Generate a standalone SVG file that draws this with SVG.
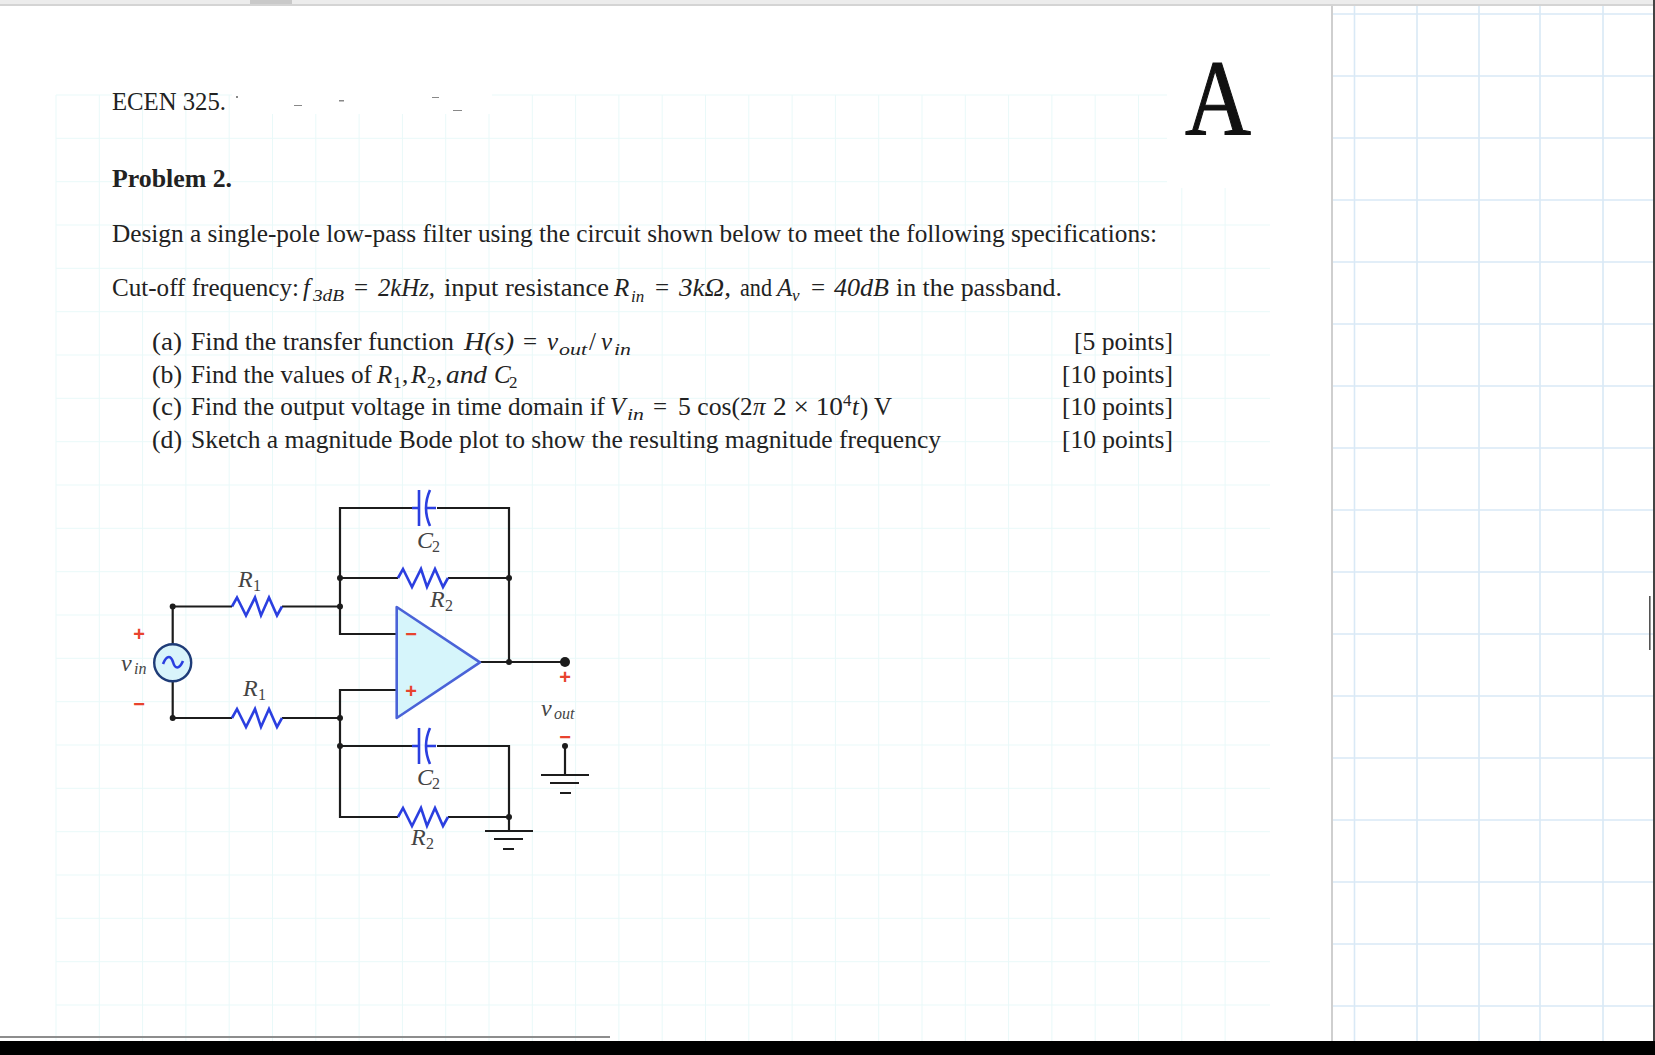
<svg xmlns="http://www.w3.org/2000/svg" width="1655" height="1055" viewBox="0 0 1655 1055">
<style>
text{font-family:"Liberation Serif","Times New Roman",serif;fill:#222;font-size:25px}
.b{font-weight:bold}
.i{font-style:italic}
.s{font-size:17px}
.c{font-size:24px;fill:#444;font-style:italic}
.cs{font-size:16px;fill:#444}
.r{font-family:"Liberation Sans",sans-serif;fill:#e8432e;font-size:20px;font-weight:bold;text-anchor:middle}
.w{fill:none;stroke:#1c1c1c;stroke-width:2.2}
.e{fill:none;stroke:#2b3fe0;stroke-width:2.6}
.d{fill:#1c1c1c}
.pg{fill:none;stroke:#e9f9f9;stroke-width:1}
.rg{fill:none;stroke:#d9e9f6;stroke-width:1.6}
</style>
<defs>
<path id="res" class="e" d="M0 0L5 -9L14 9L23 -9L29 9L37 -9L45 9L50 0"/>
<path id="cap" class="e" d="M-7 0H0M0 -18V18M11 -18Q3 0 11 18M6 0H17"/>
</defs>
<rect width="1655" height="1055" fill="#fff"/>
<g id="page-grid">
<path class="pg" d="M56 95V1041M99.3 95V1041M142.6 95V1041M185.9 95V1041M229.2 95V1041M272.5 95V1041M315.8 95V1041M359.1 95V1041M402.4 95V1041M445.7 95V1041M489 95V1041M532.3 95V1041M575.6 95V1041M618.9 95V1041M662.2 95V1041M705.5 95V1041M748.8 95V1041M792.1 95V1041M835.4 95V1041M878.7 95V1041M922 95V1041M965.3 95V1041M1008.6 95V1041M1051.9 95V1041M1095.2 95V1041M1138.5 95V1041M1181.8 95V1041M1225.1 95V1041"/>
<path class="pg" d="M56 95H1270M56 138.3H1270M56 181.7H1270M56 225H1270M56 268.3H1270M56 311.7H1270M56 355H1270M56 398.3H1270M56 441.7H1270M56 485H1270M56 528.3H1270M56 571.7H1270M56 615H1270M56 658.3H1270M56 701.7H1270M56 745H1270M56 788.3H1270M56 831.7H1270M56 875H1270M56 918.3H1270M56 961.7H1270M56 1005H1270"/>
<rect x="1167" y="88" width="110" height="100" fill="#fff"/>
<rect x="232" y="88" width="260" height="26" fill="#fff"/>
</g>
<g id="side-grid">
<path class="rg" d="M1354.5 6V1041M1417 6V1041M1479 6V1041M1540 6V1041M1603 6V1041"/>
<path class="rg" d="M1333 14H1653M1333 76H1653M1333 138H1653M1333 200H1653M1333 262H1653M1333 324H1653M1333 386H1653M1333 448H1653M1333 510H1653M1333 572H1653M1333 634H1653M1333 696H1653M1333 758H1653M1333 820H1653M1333 882H1653M1333 944H1653M1333 1006H1653"/>
</g>
<g id="window">
<rect x="0" y="0" width="1655" height="4" fill="#ececec"/>
<rect x="250" y="0" width="42" height="4" fill="#c9c9c9"/>
<rect x="0" y="4" width="1655" height="2" fill="#d4d4d4"/>
<rect x="1331" y="6" width="2" height="1035" fill="#cfcfcf"/>
<rect x="1653" y="0" width="2" height="1041" fill="#444"/>
<rect x="1649" y="596" width="1.6" height="54" fill="#555"/>
<rect x="0" y="1036" width="610" height="2" fill="#8d8d8d"/>
<rect x="0" y="1041" width="1655" height="14" fill="#000"/>
</g>
<g id="specks" fill="#888">
<rect x="236" y="96" width="2" height="2"/><rect x="294" y="105" width="8" height="1"/><rect x="339" y="100" width="5" height="1.5"/><rect x="432" y="97" width="7" height="1"/><rect x="453" y="110" width="9" height="1"/>
</g>
<g id="header">
<text x="112" y="110" textLength="114" lengthAdjust="spacingAndGlyphs">ECEN 325.</text>
<text x="1185" y="135" style="font-size:108px;fill:#111;stroke:#111;stroke-width:1.2" textLength="66" lengthAdjust="spacingAndGlyphs">A</text>
<text class="b" x="112" y="187" textLength="120" lengthAdjust="spacingAndGlyphs">Problem 2.</text>
</g>
<g id="statement">
<text x="112" y="242" textLength="1045" lengthAdjust="spacingAndGlyphs">Design a single-pole low-pass filter using the circuit shown below to meet the following specifications:</text>
<text x="112" y="296" textLength="187" lengthAdjust="spacingAndGlyphs">Cut-off frequency:</text>
<text class="i" x="303" y="296">f</text><text class="i s" x="313" y="301" textLength="31" lengthAdjust="spacingAndGlyphs">3dB</text>
<text x="354" y="296">=</text>
<text class="i" x="378" y="296" textLength="57" lengthAdjust="spacingAndGlyphs">2kHz,</text>
<text x="444" y="296" textLength="165" lengthAdjust="spacingAndGlyphs">input resistance</text>
<text class="i" x="614" y="296">R</text><text class="i s" x="631" y="302">in</text>
<text x="655" y="296">=</text>
<text class="i" x="679" y="296" textLength="52" lengthAdjust="spacingAndGlyphs">3kΩ,</text>
<text x="740" y="296" textLength="32" lengthAdjust="spacingAndGlyphs">and</text>
<text class="i" x="777" y="296">A</text><text class="i s" x="792" y="301">v</text>
<text x="811" y="296">=</text>
<text class="i" x="834" y="296" textLength="55" lengthAdjust="spacingAndGlyphs">40dB</text>
<text x="896" y="296" textLength="166" lengthAdjust="spacingAndGlyphs">in the passband.</text>
</g>
<g id="questions">
<text x="152" y="350" textLength="30" lengthAdjust="spacingAndGlyphs">(a)</text>
<text x="191" y="350" textLength="263" lengthAdjust="spacingAndGlyphs">Find the transfer function</text>
<text class="i" x="464" y="350" textLength="50" lengthAdjust="spacingAndGlyphs">H(s)</text>
<text x="523" y="350">=</text>
<text class="i" x="547" y="350">v</text><text class="i s" x="559" y="355" textLength="28" lengthAdjust="spacingAndGlyphs">out</text>
<text x="589" y="350">/</text>
<text class="i" x="601" y="350">v</text><text class="i s" x="614" y="355" textLength="17" lengthAdjust="spacingAndGlyphs">in</text>
<text x="152" y="383" textLength="30" lengthAdjust="spacingAndGlyphs">(b)</text>
<text x="191" y="383" textLength="181" lengthAdjust="spacingAndGlyphs">Find the values of</text>
<text class="i" x="377" y="383">R</text><text class="s" x="393" y="388">1</text><text x="402" y="383">,</text>
<text class="i" x="411" y="383">R</text><text class="s" x="427" y="388">2</text><text x="436" y="383">,</text>
<text class="i" x="446" y="383" textLength="41" lengthAdjust="spacingAndGlyphs">and</text>
<text class="i" x="494" y="383">C</text><text class="s" x="509" y="388">2</text>
<text x="152" y="415" textLength="30" lengthAdjust="spacingAndGlyphs">(c)</text>
<text x="191" y="415" textLength="414" lengthAdjust="spacingAndGlyphs">Find the output voltage in time domain if</text>
<text class="i" x="610" y="415">V</text><text class="i s" x="627" y="420" textLength="17" lengthAdjust="spacingAndGlyphs">in</text>
<text x="653" y="415">=</text>
<text x="678" y="415" textLength="62" lengthAdjust="spacingAndGlyphs">5 cos(</text>
<text x="740" y="415">2</text><text class="i" x="753" y="415">π</text>
<text x="773" y="415" textLength="70" lengthAdjust="spacingAndGlyphs">2 × 10</text>
<text class="s" x="843" y="406">4</text>
<text class="i" x="852" y="415">t</text>
<text x="860" y="415" textLength="32" lengthAdjust="spacingAndGlyphs">) V</text>
<text x="152" y="448" textLength="30" lengthAdjust="spacingAndGlyphs">(d)</text>
<text x="191" y="448" textLength="750" lengthAdjust="spacingAndGlyphs">Sketch a magnitude Bode plot to show the resulting magnitude frequency</text>
</g>
<g id="points" text-anchor="end">
<text x="1173" y="350" textLength="99" lengthAdjust="spacingAndGlyphs">[5 points]</text>
<text x="1173" y="383" textLength="111" lengthAdjust="spacingAndGlyphs">[10 points]</text>
<text x="1173" y="415" textLength="111" lengthAdjust="spacingAndGlyphs">[10 points]</text>
<text x="1173" y="448" textLength="111" lengthAdjust="spacingAndGlyphs">[10 points]</text>
</g>
<g id="connectors">
<path class="w" d="M172.7 644V606.5H232M282 606.5H340M172.7 681V718H232M282 718H340"/>
<path class="w" d="M396 634H340V508H412M437 508H509V662M340 578H398M448 578H509M480 662H565"/>
<path class="w" d="M396 690H340V817H398M448 817H509M340 746H412M437 746H509V831"/>
<path class="w" d="M565 746V775"/>
<path class="w" d="M485 831H533M494 839H523M503 849H514M541 775H589M550 783H579M560 793H571"/>
</g>
<g id="junctions">
<circle class="d" cx="172.7" cy="606.5" r="3"/><circle class="d" cx="172.7" cy="718" r="3"/><circle class="d" cx="340" cy="578" r="3"/><circle class="d" cx="509" cy="578" r="3"/><circle class="d" cx="340" cy="606.5" r="3"/><circle class="d" cx="509" cy="662" r="3"/><circle class="d" cx="340" cy="718" r="3"/><circle class="d" cx="340" cy="746" r="3"/><circle class="d" cx="509" cy="817" r="3"/><circle class="d" cx="565" cy="746" r="3"/><circle class="d" cx="565" cy="662" r="5"/>
</g>
<g id="source-vin">
<circle cx="172.7" cy="662.7" r="18.5" fill="#d9f4fb" stroke="#1f3c78" stroke-width="2.4"/>
<path class="e" d="M163 664C167 654 171 656 173 662C175 669 179 670 183 661"/>
<text class="c" x="121" y="671">v</text><text class="cs i" x="134" y="674">in</text>
<text class="r" x="139" y="641">+</text><text class="r" x="139" y="711">−</text>
</g>
<g id="r1-top"><use href="#res" x="232" y="606.5"/><text class="c" x="238" y="587">R</text><text class="cs" x="253" y="591">1</text></g>
<g id="r1-bottom"><use href="#res" x="232" y="718"/><text class="c" x="243" y="696">R</text><text class="cs" x="258" y="700">1</text></g>
<g id="c2-top"><use href="#cap" x="419" y="508"/><text class="c" x="417" y="548">C</text><text class="cs" x="432" y="552">2</text></g>
<g id="r2-top"><use href="#res" x="398" y="578"/><text class="c" x="430" y="607">R</text><text class="cs" x="445" y="611">2</text></g>
<g id="c2-bottom"><use href="#cap" x="419" y="746"/><text class="c" x="417" y="785">C</text><text class="cs" x="432" y="789">2</text></g>
<g id="r2-bottom"><use href="#res" x="398" y="817"/><text class="c" x="411" y="845">R</text><text class="cs" x="426" y="849">2</text></g>
<g id="opamp">
<path d="M396.7 607V718L480 662.3Z" fill="#d6f5fb" stroke="#4a63d8" stroke-width="2.6" stroke-linejoin="round"/>
<text class="r" x="411" y="641">−</text><text class="r" x="411" y="698">+</text>
</g>
<g id="vout">
<text class="r" x="565" y="684">+</text><text class="r" x="565" y="744">−</text>
<text class="c" x="541" y="716">v</text><text class="cs i" x="554" y="719">out</text>
</g>
</svg>
